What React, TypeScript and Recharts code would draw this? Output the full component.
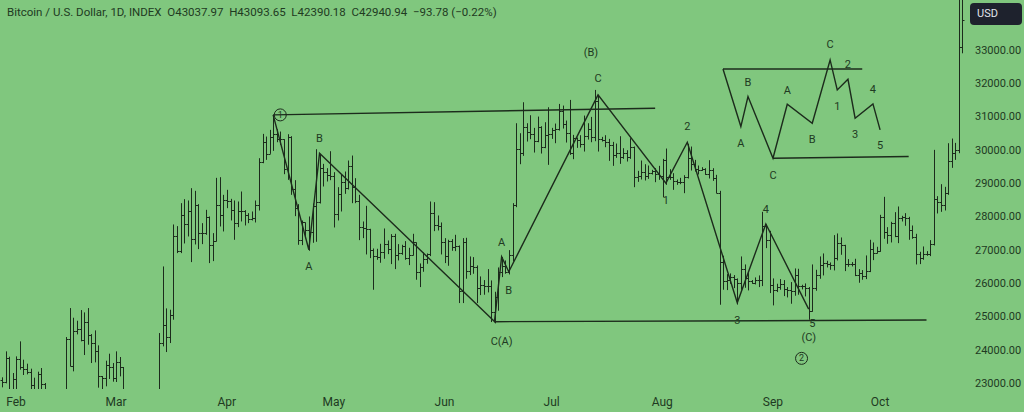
import { ComposedChart, Bar, Line, XAxis, YAxis, ReferenceLine, ReferenceDot } from 'recharts';

type Ohlc = [number, number, number, number];

// daily bars [open, high, low, close], BTC/USD index
const jan: Ohlc[] = [
  [23080, 23170, 22870, 23030], [23030, 23950, 22990, 23750], [23750, 23790, 22560, 22830], [22830, 23300, 22720, 23130],
];
const feb: Ohlc[] = [
  [23130, 23800, 22780, 23730], [23730, 24250, 23400, 23490], [23490, 23700, 23240, 23430], [23430, 23580, 23260, 23330],
  [23330, 23430, 22750, 22940], [22940, 23160, 22630, 22760], [22760, 23340, 22750, 23260], [23260, 23450, 22700, 22960],
  [22960, 23000, 21700, 21800], [21800, 21900, 21450, 21630], [21630, 21900, 21600, 21860], [21860, 22090, 21640, 21790],
  [21790, 21890, 21360, 21790], [21790, 22320, 21540, 22200], [22200, 24380, 22050, 24330], [24330, 25250, 23500, 23520],
  [23520, 24960, 23350, 24570], [24570, 24870, 24460, 24630], [24630, 25190, 24250, 24280], [24280, 25120, 23840, 24840],
  [24840, 25250, 24150, 24440], [24440, 24470, 23600, 24190], [24190, 24580, 23620, 23950], [23950, 24130, 22860, 23200],
  [23200, 23210, 22750, 23150], [23150, 23670, 22900, 23550], [23550, 23880, 23120, 23490], [23490, 23600, 23040, 23140],
];
const mar: Ohlc[] = [
  [23140, 23950, 23030, 23640], [23640, 23780, 23200, 23470], [23470, 23480, 22000, 22350], [22350, 22430, 22170, 22430],
  [22430, 22610, 22220, 22430], [22430, 22550, 22310, 22410], [22410, 22530, 21940, 22200], [22200, 22270, 21580, 21710],
  [21710, 21810, 20060, 20360], [20360, 20360, 19570, 20190], [20190, 20770, 19900, 20630], [20630, 22180, 20460, 22160],
  [22160, 24500, 21940, 24200], [24200, 26500, 24100, 24750], [24750, 25240, 23930, 24380], [24380, 25200, 24200, 25050],
  [25050, 27760, 24900, 27420], [27420, 27710, 26900, 26970], [26970, 28400, 26900, 28040], [28040, 28520, 27190, 27770],
  [27770, 28480, 27400, 28170], [28170, 28850, 26630, 27310], [27310, 28770, 27160, 28330], [28330, 28370, 27020, 27490],
  [27490, 27800, 27170, 27490], [27490, 28200, 27450, 27990], [27990, 28000, 26600, 27140], [27140, 27500, 26660, 27270],
  [27270, 29160, 27250, 28350], [28350, 29180, 27700, 28030], [28030, 28650, 27550, 28480],
];
const apr: Ohlc[] = [
  [28480, 28800, 28250, 28460], [28460, 28530, 27880, 28200], [28200, 28480, 27300, 27800], [27800, 28450, 27680, 28170],
  [28170, 28750, 27850, 28170], [28170, 28190, 27730, 28030], [28030, 28100, 27800, 27920], [27920, 28150, 27880, 27950],
  [27950, 28480, 27820, 28330], [28330, 29750, 28180, 29650], [29650, 30480, 29600, 30230], [30230, 30400, 29700, 29890],
  [29890, 30600, 29880, 30400], [30400, 31000, 29970, 30490], [30490, 30620, 30230, 30320], [30320, 30550, 30150, 30320],
  [30320, 30320, 29270, 29430], [29430, 30470, 29100, 30390], [30390, 30410, 28650, 28820], [28820, 29090, 28010, 28250],
  [28250, 28370, 27150, 27280], [27280, 27880, 27140, 27820], [27820, 27820, 27350, 27590], [27590, 28000, 26970, 27520],
  [27520, 28390, 27210, 28310], [28310, 30020, 27240, 28420], [28420, 29880, 28390, 29470], [29470, 29580, 28900, 29340],
  [29340, 29450, 29050, 29250], [29250, 29960, 29090, 29230],
];
const may: Ohlc[] = [
  [29230, 29330, 27670, 28080], [28080, 28880, 27880, 28680], [28680, 29260, 28150, 29030], [29030, 29350, 28680, 28850],
  [28850, 29680, 28810, 29530], [29530, 29830, 28400, 28900], [28900, 29150, 28400, 28450], [28450, 28650, 27290, 27690],
  [27690, 27850, 27350, 27650], [27650, 28320, 26860, 27630], [27630, 27630, 26750, 26990], [26990, 27040, 25800, 26800],
  [26800, 27030, 26700, 26780], [26780, 27180, 26610, 26930], [26930, 27640, 26730, 27170], [27170, 27280, 26870, 27030],
  [27030, 27470, 26570, 27400], [27400, 27480, 26420, 26830], [26830, 27170, 26680, 26890], [26890, 27150, 26850, 27120],
  [27120, 27260, 26700, 26760], [26760, 27060, 26540, 26850], [26850, 27480, 26830, 27220], [27220, 27220, 26100, 26330],
  [26330, 26590, 25880, 26480], [26480, 26920, 26340, 26720], [26720, 26890, 26580, 26870], [26870, 28450, 26810, 28090],
  [28090, 28430, 27560, 27740], [27740, 28030, 27580, 27700], [27700, 27820, 26860, 27220],
];
const jun: Ohlc[] = [
  [27220, 27350, 26600, 26820], [26820, 27300, 26520, 27250], [27250, 27320, 26970, 27070], [27070, 27450, 26960, 27120],
  [27120, 27130, 25400, 25760], [25760, 27350, 25400, 27240], [27240, 27360, 26130, 26350], [26350, 26800, 26240, 26500],
  [26500, 26780, 26280, 26480], [26480, 26530, 25400, 25850], [25850, 26200, 25640, 25940], [25940, 26090, 25650, 25900],
  [25900, 26420, 25720, 25920], [25920, 26080, 24830, 25120], [25120, 25740, 24790, 25580], [25580, 26470, 25170, 26330],
  [26330, 26780, 26180, 26510], [26510, 26680, 26280, 26340], [26340, 26990, 26260, 26850], [26850, 28400, 26650, 28330],
  [28330, 30800, 28280, 30030], [30030, 30500, 29570, 29900], [29900, 31430, 29820, 30700], [30700, 30800, 30250, 30550],
  [30550, 31040, 30320, 30480], [30480, 30660, 29920, 30270], [30270, 31000, 30230, 30690], [30690, 30710, 29890, 30080],
  [30080, 30830, 30050, 30450], [30450, 31280, 29550, 30480],
];
const jul: Ohlc[] = [
  [30480, 30660, 30330, 30590], [30590, 30790, 30200, 30620], [30620, 31380, 30580, 31160], [31160, 31330, 30640, 30770],
  [30770, 30880, 30220, 30510], [30510, 31500, 29850, 29900], [29900, 30450, 29720, 30350], [30350, 30370, 30060, 30290],
  [30290, 30440, 30070, 30170], [30170, 31030, 29950, 30410], [30410, 30800, 30310, 30620], [30620, 30990, 30230, 30390],
  [30390, 31800, 30260, 31480], [31480, 31650, 29950, 30320], [30320, 30390, 30250, 30300], [30300, 30440, 30080, 30250],
  [30250, 30330, 29670, 30140], [30140, 30240, 29520, 29860], [29860, 30190, 29760, 29910], [29910, 30410, 29580, 29800],
  [29800, 30050, 29730, 29910], [29910, 29990, 29650, 29800], [29800, 30350, 29730, 30080], [30080, 30100, 28880, 29180],
  [29180, 29370, 29040, 29230], [29230, 29680, 29110, 29350], [29350, 29570, 29080, 29220], [29220, 29530, 29130, 29320],
  [29320, 29400, 29260, 29360], [29360, 29450, 29030, 29280], [29280, 29520, 29100, 29230],
];
const aug: Ohlc[] = [
  [29230, 29730, 28580, 29700], [29700, 30040, 28950, 29180], [29180, 29420, 29100, 29180], [29180, 29300, 28800, 29080],
  [29080, 29110, 28950, 29050], [29050, 29160, 28970, 29040], [29040, 29240, 28700, 29180], [29180, 30180, 29140, 29770],
  [29770, 30100, 29380, 29580], [29580, 29700, 29350, 29440], [29440, 29530, 29260, 29400], [29400, 29480, 29370, 29420],
  [29420, 29450, 29250, 29290], [29290, 29690, 29140, 29410], [29410, 29450, 29070, 29170], [29170, 29250, 28700, 28700],
  [28700, 28770, 25350, 26620], [26620, 26820, 25800, 26050], [26050, 26270, 25790, 26100], [26100, 26290, 25980, 26190],
  [26190, 26240, 25850, 26120], [26120, 26140, 25360, 25990], [25990, 26800, 25800, 26430], [26430, 26560, 25860, 26160],
  [26160, 26300, 25780, 26050], [26050, 26090, 25980, 26010], [26010, 26170, 25960, 26100], [26100, 26230, 25880, 26100],
  [26100, 28140, 25910, 27720], [27720, 27760, 27050, 27300], [27300, 27570, 25700, 25930],
];
const sep: Ohlc[] = [
  [25930, 26140, 25330, 25800], [25800, 25980, 25730, 25870], [25870, 26120, 25800, 25970], [25970, 26090, 25610, 25820],
  [25820, 25880, 25570, 25780], [25780, 26030, 25380, 25750], [25750, 26440, 25620, 26240], [26240, 26430, 25650, 25900],
  [25900, 25950, 25810, 25900], [25900, 25990, 25600, 25840], [25840, 25880, 24900, 25160], [25160, 26560, 25140, 25840],
  [25840, 26400, 25770, 26230], [26230, 26800, 26130, 26530], [26530, 26890, 26230, 26610], [26610, 26670, 26470, 26570],
  [26570, 26620, 26400, 26530], [26530, 27440, 26380, 26760], [26760, 27490, 26680, 27210], [27210, 27370, 26850, 27130],
  [27130, 27150, 26360, 26570], [26570, 26720, 26490, 26580], [26580, 26630, 26500, 26580], [26580, 26730, 26210, 26250],
  [26250, 26420, 26010, 26300], [26300, 26390, 26100, 26220], [26220, 26830, 26120, 26370], [26370, 27300, 26330, 27030],
  [27030, 27220, 26690, 26910], [26910, 27090, 26890, 26970],
];
const oct: Ohlc[] = [
  [26970, 28050, 26940, 27990], [27990, 28590, 27330, 27530], [27530, 27680, 27180, 27430], [27430, 27840, 27220, 27800],
  [27800, 28130, 27380, 27410], [27410, 28300, 27200, 27950], [27950, 28020, 27850, 27970], [27970, 28100, 27720, 27940],
  [27940, 27990, 27300, 27600], [27600, 27730, 27330, 27390], [27390, 27480, 26560, 26870], [26870, 26940, 26570, 26760],
  [26760, 27100, 26700, 26860], [26860, 26960, 26820, 26860], [26860, 27290, 26810, 27160], [27160, 30000, 27130, 28520],
  [28520, 28610, 28090, 28420], [28420, 28970, 28140, 28330], [28330, 28890, 28180, 28720], [28720, 30200, 28650, 29680],
  [29680, 30340, 29460, 29920], [29920, 30210, 29700, 29990], [29990, 34800, 29900, 33090], [33090, 35150, 32900, 33900],
];

const monthBlocks: { month: string; firstDay: number; bars: Ohlc[] }[] = [
  { month: '01', firstDay: 28, bars: jan },
  { month: '02', firstDay: 1, bars: feb },
  { month: '03', firstDay: 1, bars: mar },
  { month: '04', firstDay: 1, bars: apr },
  { month: '05', firstDay: 1, bars: may },
  { month: '06', firstDay: 1, bars: jun },
  { month: '07', firstDay: 1, bars: jul },
  { month: '08', firstDay: 1, bars: aug },
  { month: '09', firstDay: 1, bars: sep },
  { month: '10', firstDay: 1, bars: oct },
];

const monthTicks = ['2023-02-01', '2023-03-01', '2023-04-01', '2023-05-01', '2023-06-01', '2023-07-01', '2023-08-01', '2023-09-01', '2023-10-01'];
const monthNames: Record<string, string> = { '02': 'Feb', '03': 'Mar', '04': 'Apr', '05': 'May', '06': 'Jun', '07': 'Jul', '08': 'Aug', '09': 'Sep', '10': 'Oct' };
const priceTicks = [23000, 24000, 25000, 26000, 27000, 28000, 29000, 30000, 31000, 32000, 33000];

// Elliott wave drawing: [date, price]
const wavePath: [string, number][] = [
  ['2023-04-14', 31050], ['2023-04-24', 27000], ['2023-04-27', 29900], ['2023-06-15', 24850],
  ['2023-06-17', 26790], ['2023-06-19', 26340], ['2023-07-14', 31650], ['2023-08-02', 29000],
  ['2023-08-08', 30230], ['2023-08-22', 25410], ['2023-08-30', 27775], ['2023-09-11', 25220],
];
// small schematic drawn top right
const schemePath: [string, number][] = [
  ['2023-08-18', 32430], ['2023-08-23', 30700], ['2023-08-25', 31600], ['2023-09-01', 29750],
  ['2023-09-05', 31370], ['2023-09-12', 30800], ['2023-09-17', 32700], ['2023-09-19', 31800],
  ['2023-09-22', 32120], ['2023-09-24', 30950], ['2023-09-29', 31380], ['2023-10-01', 30600],
];
const segments: [string, number, string, number][] = [
  ['2023-04-14', 31050, '2023-07-30', 31250],
  ['2023-06-15', 24840, '2023-10-14', 24890],
  ['2023-08-18', 32430, '2023-09-26', 32430],
  ['2023-09-01', 29750, '2023-10-09', 29800],
];
const waveLabels: [string, number, string][] = [
  ['2023-04-24', 26510, 'A'], ['2023-04-27', 30330, 'B'], ['2023-06-17', 24260, 'C(A)'],
  ['2023-06-17', 27230, 'A'], ['2023-06-19', 25790, 'B'], ['2023-07-14', 32130, 'C'], ['2023-07-12', 32910, '(B)'],
  ['2023-08-02', 28470, '1'], ['2023-08-08', 30690, '2'], ['2023-08-22', 24890, '3'], ['2023-08-30', 28220, '4'],
  ['2023-09-12', 24800, '5'], ['2023-09-11', 24370, '(C)'],
  ['2023-08-25', 32030, 'B'], ['2023-08-23', 30180, 'A'], ['2023-09-01', 29220, 'C'], ['2023-09-05', 31780, 'A'],
  ['2023-09-12', 30300, 'B'], ['2023-09-17', 33150, 'C'], ['2023-09-22', 32550, '2'], ['2023-09-19', 31300, '1'],
  ['2023-09-29', 31800, '4'], ['2023-09-24', 30470, '3'], ['2023-10-01', 30120, '5'],
];
const circledLabels: [string, number, string][] = [
  ['2023-04-16', 31050, '1'],
  ['2023-09-09', 23740, '2'],
];

const BG = '#80c77e';
const INK = '#1c2b1c';
const TEXT = '#203a22';
const FONT = 'Roboto, "Liberation Sans", sans-serif';

const pad = (n: number) => (n < 10 ? '0' + n : '' + n);

const rows = monthBlocks.flatMap((b) =>
  b.bars.map(([o, h, l, c], i) => ({
    date: `2023-${b.month}-${pad(b.firstDay + i)}`,
    o, h, l, c,
    range: [l, h] as [number, number],
  }))
).map((r: any) => {
  const w = wavePath.find((p) => p[0] === r.date);
  const s = schemePath.find((p) => p[0] === r.date);
  return { ...r, wave: w ? w[1] : null, scheme: s ? s[1] : null };
});

const OhlcShape = (props: any) => {
  const { x, y, width, height, payload } = props;
  if (x == null || y == null || !payload) return null;
  const top = Math.min(y, y + height);
  const bottom = Math.max(y, y + height);
  const span = payload.h - payload.l || 1;
  const toY = (v: number) => top + ((payload.h - v) / span) * (bottom - top);
  const cx = Math.round(x + width / 2) + 0.5;
  const oy = Math.round(toY(payload.o)) + 0.5;
  const cy = Math.round(toY(payload.c)) + 0.5;
  return (
    <g stroke={INK} strokeWidth={1}>
      <line x1={cx} x2={cx} y1={top} y2={bottom} />
      <line x1={cx - 2} x2={cx} y1={oy} y2={oy} />
      <line x1={cx} x2={cx + 2} y1={cy} y2={cy} />
    </g>
  );
};

export default function App() {
  return (
    <div style={{ position: 'absolute', left: 0, top: 0, width: 1024, height: 412, background: BG, overflow: 'hidden' }}>
      <ComposedChart width={1024} height={412} data={rows} margin={{ top: 0, right: 0, left: 0, bottom: 0 }} barCategoryGap={0}>
        <XAxis
          dataKey="date"
          ticks={monthTicks}
          interval={0}
          height={23}
          axisLine={false}
          tickLine={false}
          tickMargin={2}
          tickFormatter={(d: string) => monthNames[d.slice(5, 7)] || ''}
          tick={{ fill: TEXT, fontSize: 12, fontFamily: FONT }}
        />
        <YAxis
          orientation="right"
          width={60}
          domain={[22820, 34500]}
          allowDataOverflow
          ticks={priceTicks}
          interval={0}
          axisLine={false}
          tickLine={false}
          tickMargin={5}
          tickFormatter={(v: number) => v.toFixed(2)}
          tick={{ fill: TEXT, fontSize: 11, fontFamily: FONT, textAnchor: 'start' }}
        />
        <Bar dataKey="range" shape={OhlcShape} isAnimationActive={false} />
        <Line dataKey="wave" type="linear" connectNulls dot={false} stroke={INK} strokeWidth={1.4} isAnimationActive={false} />
        <Line dataKey="scheme" type="linear" connectNulls dot={false} stroke={INK} strokeWidth={1.4} isAnimationActive={false} />
        {segments.map(([x1, y1, x2, y2], i) => (
          <ReferenceLine key={'s' + i} segment={[{ x: x1, y: y1 }, { x: x2, y: y2 }]} stroke={INK} strokeWidth={1.4} />
        ))}
        {waveLabels.map(([d, p, t], i) => (
          <ReferenceDot
            key={'l' + i}
            x={d}
            y={p}
            r={0}
            shape={(s: any) => (
              <text x={s.cx} y={s.cy} textAnchor="middle" dominantBaseline="central" fill={TEXT} fontSize={11} fontFamily={FONT}>
                {t}
              </text>
            )}
          />
        ))}
        {circledLabels.map(([d, p, t], i) => (
          <ReferenceDot
            key={'c' + i}
            x={d}
            y={p}
            r={6}
            shape={(s: any) => (
              <g>
                <circle cx={s.cx} cy={s.cy} r={6} fill="none" stroke={INK} strokeWidth={1} />
                <text x={s.cx} y={s.cy} textAnchor="middle" dominantBaseline="central" fill={TEXT} fontSize={9} fontFamily={FONT}>
                  {t}
                </text>
              </g>
            )}
          />
        ))}
      </ComposedChart>
      <div style={{ position: 'absolute', left: 7, top: 5, fontFamily: FONT, fontSize: 11.5, color: TEXT, whiteSpace: 'pre' }}>
        {'Bitcoin / U.S. Dollar, 1D, INDEX  O43037.97  H43093.65  L42390.18  C42940.94  \u221293.78 (\u22120.22%)'}
      </div>
      <div style={{ position: 'absolute', left: 970, top: 3, width: 52, height: 22, background: '#1e222d', borderRadius: 4, color: '#e0e3eb', fontFamily: FONT, fontSize: 11, lineHeight: '22px', paddingLeft: 7, boxSizing: 'border-box' }}>
        USD
      </div>
    </div>
  );
}
